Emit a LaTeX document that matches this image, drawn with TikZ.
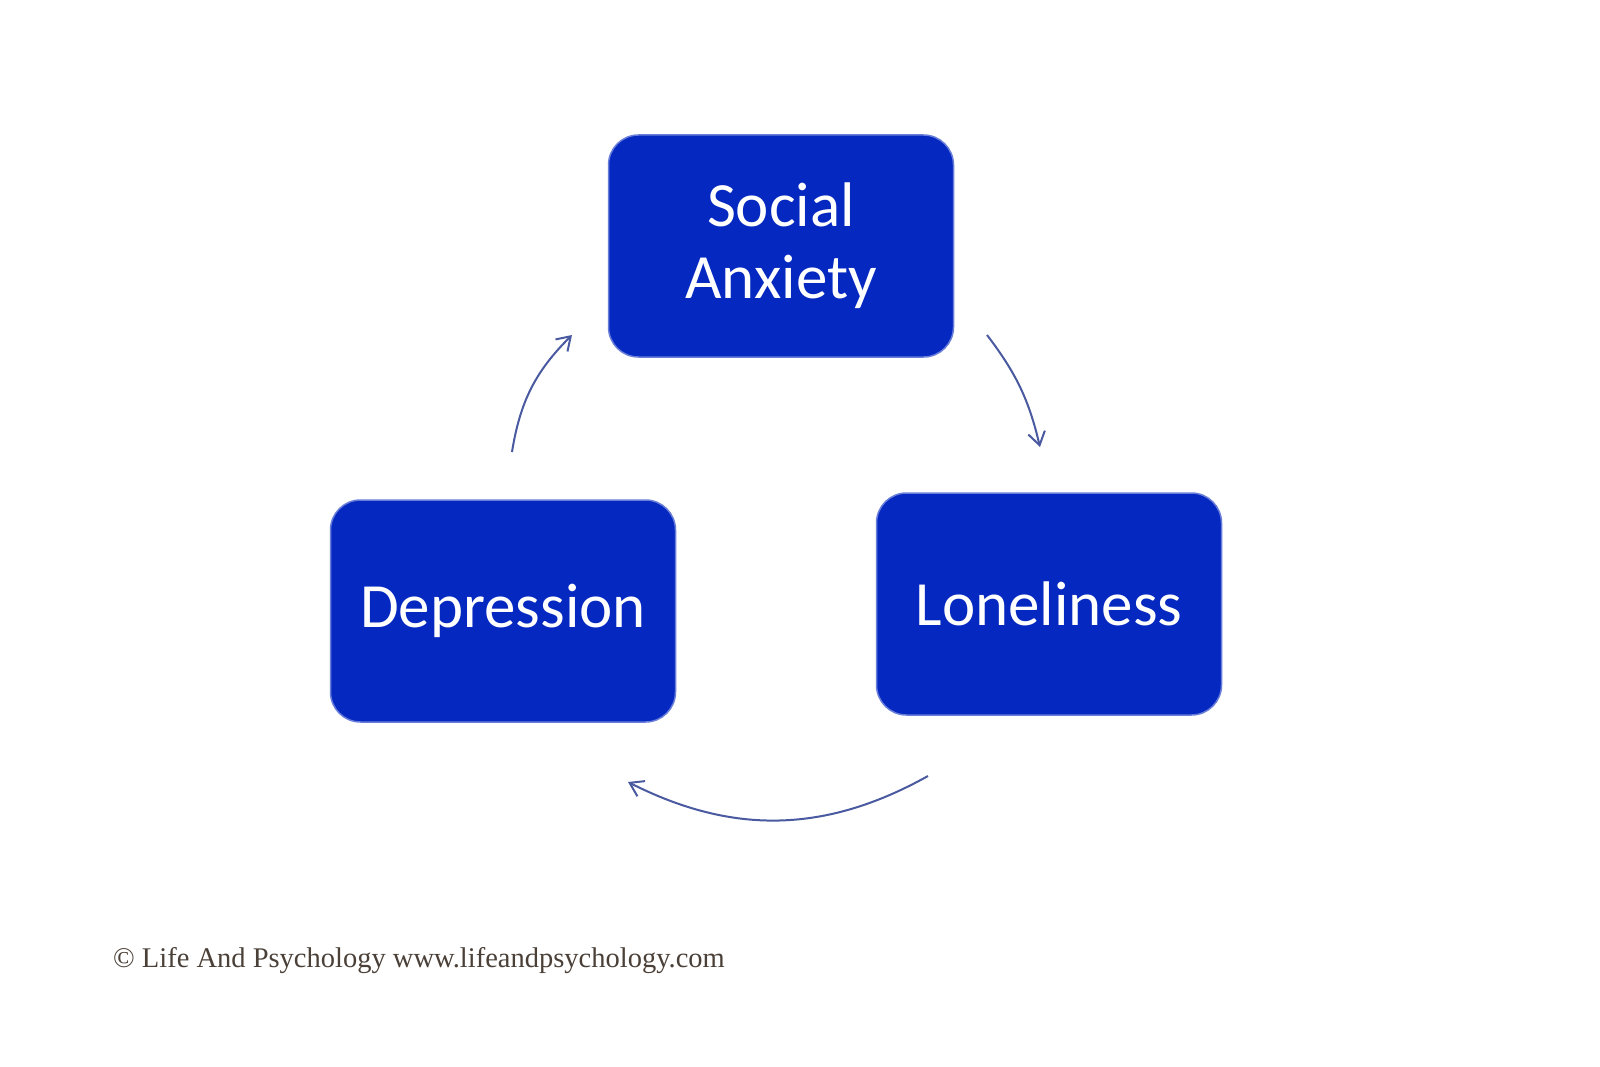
\documentclass[tikz,border=0pt]{standalone}
\usetikzlibrary{arrows.meta}
\usepackage{fontspec}
\setmainfont{Carlito}
\newfontfamily\footfont{Liberation Serif}
\definecolor{boxblue}{HTML}{0528C0}
\definecolor{arrowc}{HTML}{4A5AA0}
\definecolor{footc}{HTML}{4A4038}
\begin{document}
\begin{tikzpicture}[x=1pt,y=-1pt,
  box/.style={draw=boxblue!60!white,line width=1.5pt,fill=boxblue,rounded corners=30pt,minimum width=345pt,minimum height=222pt,text=white,font=\fontsize{63}{72}\selectfont,align=center,inner sep=0pt},
  cyc/.style={draw=arrowc,line width=2pt,-{Straight Barb[length=13pt,width=17pt]}}]
\useasboundingbox (0,0) rectangle (1600,1067);
\fill[white] (0,0) rectangle (1600,1067);
\node[box] (sa) at (781,246) {Social\\Anxiety};
\node[box] (lo) at (1049,604) {Loneliness};
\node[box] (de) at (503,611) {Depression};
\coordinate (a1s) at (512,452); \coordinate (a1e) at (572,335);
\coordinate (a2s) at (987,335); \coordinate (a2e) at (1040,447);
\coordinate (a3s) at (928,776); \coordinate (a3e) at (628,782);
\draw[cyc] (a1s) to[bend left=18] (a1e);
\draw[cyc] (a2s) to[bend left=12] (a2e);
\draw[cyc] (a3s) to[bend left=28] (a3e);
\node[anchor=west,text=footc,font=\footfont\fontsize{28.5}{32}\selectfont,inner sep=0pt] (ft) at (113,961) {© Life And Psychology www.lifeandpsychology.com};
\end{tikzpicture}
\end{document}
